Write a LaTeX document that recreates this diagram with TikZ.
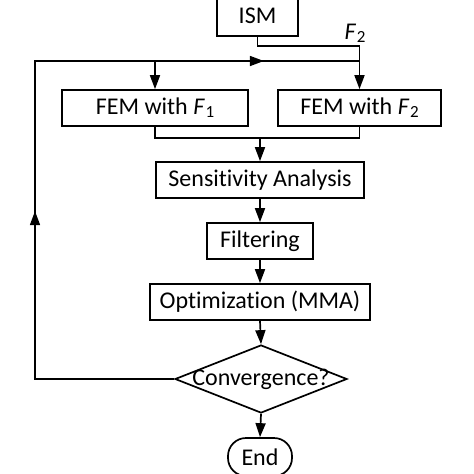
\documentclass[tikz,border=0pt]{standalone}
\usepackage{fontspec}
\setmainfont{Carlito}[Ligatures={NoCommon,NoRare}]
\usetikzlibrary{arrows.meta,shapes.geometric,decorations.markings}
\newcommand\Fs[1]{\textit{F}\kern0.03em\raisebox{-0.28ex}{\fontsize{17}{17}\selectfont #1}}
\begin{document}
\begin{tikzpicture}[x=1pt,y=-1pt,
  line width=1.7pt,
  every node/.style={font=\fontsize{24}{27}\selectfont},
  box/.style={draw,rectangle,inner sep=0pt,minimum height=36pt},
  arr/.style={-{Triangle[length=14pt,width=10pt]}}]
\useasboundingbox (0,0) rectangle (474,474);
\clip (0,0) rectangle (474,474);
\fill[white] (0,0) rectangle (474,474);
\node[box,minimum width=81pt,minimum height=40pt] (ism) at (257.5,16) {\raisebox{-0.15em}{ISM}};
\node[box,minimum width=186pt] (fem1) at (155,108) {FEM with \Fs{1}};
\node[box,minimum width=163pt] (fem2) at (359.5,108) {FEM with \Fs{2}};
\node[box,minimum width=208pt] (sens) at (260,180) {Sensitivity Analysis};
\node[box,minimum width=106pt] (filt) at (260,241) {Filtering};
\node[box,minimum width=220pt] (opt) at (260,302) {Optimization (MMA)};
\node[draw,diamond,inner sep=0pt,minimum width=172pt,minimum height=68pt] (conv) at (261,379) {};
\node (convt) at (261,379) {Convergence?};
\node[draw,rectangle,rounded corners=18pt,inner sep=0pt,minimum width=64pt,minimum height=38pt] (end) at (260,457) {End};
\node (f2) at (355,33) {\Fs{2}};
% connectors
\coordinate (j) at (359.5,61);
\coordinate (fbA) at (35,379);
\coordinate (fbB) at (35,61);
\draw[arr] (ism.south) -- ++(0,9) -| (fem2.north);
\draw[postaction={decorate},decoration={markings,
   mark=at position 307pt with {\arrow{Triangle[length=14pt,width=10pt]}},
   mark=at position 686pt with {\arrow{Triangle[length=14pt,width=10pt]}}}]
   (conv.west) -- (fbA) -- (fbB) -- (j);
\draw[arr] (fem1.north |- j) -- (fem1.north);
\coordinate (m) at (260,138);
\draw (fem1.south) |- (m) -| (fem2.south);
\draw[arr] (m) -- (sens.north);
\draw[arr] (sens.south) -- (filt.north);
\draw[arr] (filt.south) -- (opt.north);
\draw[arr] (opt.south) -- (conv.north);
\draw[arr] (conv.south) -- (end.north);
\end{tikzpicture}
\end{document}
